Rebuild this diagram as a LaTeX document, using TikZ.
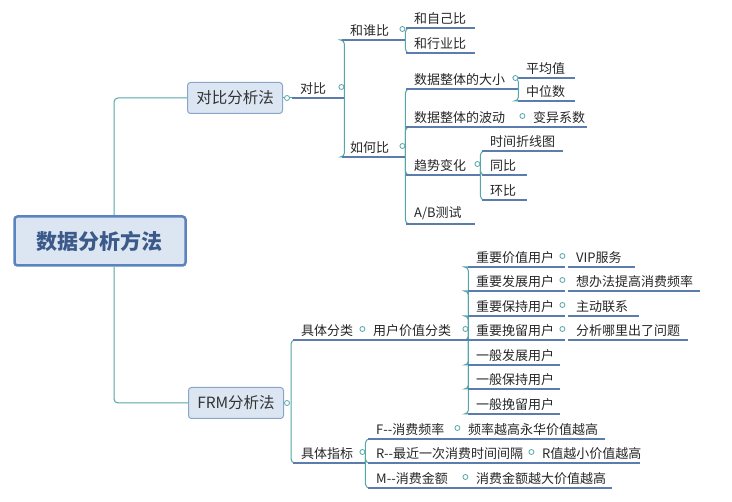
\documentclass[tikz,border=0pt]{standalone}
\usepackage{fontspec}
\setmainfont{Noto Sans CJK SC}
\usetikzlibrary{positioning, calc}
\definecolor{branch}{HTML}{55A6A8}
\definecolor{uline}{HTML}{5A7DAE}
\definecolor{boxfill}{HTML}{DCE6F2}
\definecolor{boxline}{HTML}{8AA5C8}
\definecolor{rootline}{HTML}{5B84BF}
\definecolor{roottext}{HTML}{3B5A8A}
\tikzset{
    x=1pt, y=-1pt,
    root/.style={draw=rootline, line width=2.5pt, fill=boxfill, rounded corners=3pt,
        minimum width=171pt, minimum height=49pt, text=roottext,
        font=\fontsize{21}{25}\selectfont\bfseries},
    method/.style={draw=boxline, line width=1pt, fill=boxfill, rounded corners=3pt,
        minimum width=95pt, minimum height=31pt, text=black!80,
        font=\fontsize{15.5}{18}\selectfont},
    topic/.style={anchor=south west, inner xsep=8pt, inner ysep=3.5pt, align=left,
        text width=#1-16pt, text=black!85, font=\fontsize{13}{16}\selectfont,
        execute at begin node=\hbox\bgroup, execute at end node=\egroup},
    br/.style={draw=branch, line width=1pt, rounded corners=4pt},
    ul/.style={draw=uline, line width=1.2pt},
    dot/.style={circle, draw=branch, fill=white, line width=.8pt, inner sep=0pt,
        minimum size=5pt},
}
\begin{document}
\begin{tikzpicture}
    \useasboundingbox (0, 0) rectangle (732, 502);
    % main boxes
    \node[root] (root) at (100, 241) {数据分析方法};
    \node[method] (dbfx) at (235, 98) {对比分析法};
    \node[method] (frm) at (236, 403) {FRM分析法};
    \draw[br] ([xshift=14pt]root.north) |- (dbfx.west);
    \draw[br] ([xshift=14pt]root.south) |- (frm.west);

    % contrast branch
    \node[topic=52pt] (db) at (292, 98) {对比};
    \node[topic=63pt] (hzb) at (342, 40) {和谁比};
    \node[topic=63pt] (hhb) at (342, 157) {如何比};
    \node[topic=69pt] (zj) at (406, 28) {和自己比};
    \node[topic=69pt] (hy) at (406, 53) {和行业比};
    \node[topic=112pt] (dx) at (406, 89) {数据整体的大小};
    \node[topic=119pt] (bd) at (406, 127) {数据整体的波动};
    \node[topic=62pt] (byxs) at (525, 127) {变异系数};
    \node[topic=74pt] (qs) at (406, 175) {趋势变化};
    \node[topic=69pt] (ab) at (406, 224) {A/B测试};
    \node[topic=57pt] (pjz) at (518, 78) {平均值};
    \node[topic=57pt] (zws) at (518, 101) {中位数};
    \node[topic=81pt] (zxt) at (482, 151) {时间折线图};
    \node[topic=45pt] (tb) at (482, 175) {同比};
    \node[topic=45pt] (hb) at (482, 200) {环比};
    \draw[br] (dbfx.east) -- (db.south west);
    \foreach \c in {hzb, hhb} \draw[br] (db.south east) |- (\c.south west);
    \foreach \c in {zj, hy} \draw[br] (hzb.south east) |- (\c.south west);
    \foreach \c in {dx, bd, qs, ab} \draw[br] (hhb.south east) |- (\c.south west);
    \foreach \c in {pjz, zws} \draw[br] (dx.south east) |- (\c.south west);
    \foreach \c in {zxt, tb, hb} \draw[br] (qs.south east) |- (\c.south west);

    % FRM branch
    \node[topic=72pt] (jtfl) at (293, 340) {具体分类};
    \node[topic=103pt] (yhfl) at (365, 340) {用户价值分类};
    \node[topic=72pt] (jtzb) at (293, 463) {具体指标};
    \node[topic=97pt] (u1) at (468, 267) {重要价值用户};
    \node[topic=97pt] (u2) at (468, 291) {重要发展用户};
    \node[topic=97pt] (u3) at (468, 316) {重要保持用户};
    \node[topic=97pt] (u4) at (468, 340) {重要挽留用户};
    \node[topic=92pt] (u5) at (468, 365) {一般发展用户};
    \node[topic=92pt] (u6) at (468, 389) {一般保持用户};
    \node[topic=92pt] (u7) at (468, 414) {一般挽留用户};
    \node[topic=67pt] (v1) at (568, 267) {VIP服务};
    \node[topic=132pt] (v2) at (568, 291) {想办法提高消费频率};
    \node[topic=71pt] (v3) at (568, 316) {主动联系};
    \node[topic=120pt] (v4) at (568, 340) {分析哪里出了问题};
    \node[topic=92pt] (f) at (368, 439) {F-{}-消费频率};
    \node[topic=166pt] (r) at (368, 463) {R-{}-最近一次消费时间间隔};
    \node[topic=100pt] (m) at (368, 488) {M-{}-消费金额};
    \node[topic=145pt] (fv) at (460, 439) {频率越高永华价值越高};
    \node[topic=106pt] (rv) at (534, 463) {R值越小价值越高};
    \node[topic=144pt] (mv) at (468, 488) {消费金额越大价值越高};
    \foreach \c in {jtfl, jtzb} \draw[br] ([xshift=7pt]frm.east) |- (\c.south west);
    \foreach \c in {u1, u2, u3, u4, u5, u6, u7}
        \draw[br] (yhfl.south east) |- (\c.south west);
    \foreach \c in {f, r, m} \draw[br] (jtzb.south east) |- (\c.south west);

    % underlines
    \foreach \n in {db, hzb, hhb, zj, hy, dx, bd, byxs, qs, ab, pjz, zws, zxt, tb, hb,
        jtfl, yhfl, jtzb, u1, u2, u3, u4, u5, u6, u7, v1, v2, v3, v4, f, r, m, fv, rv, mv}
        \draw[ul] (\n.south west) -- (\n.south east);

    % collapse dots
    \node[dot] at ([xshift=4pt]dbfx.east) {};
    \node[dot] at ([xshift=3pt]frm.east) {};
    \foreach \n in {db, hzb, hhb, dx, bd, qs, jtfl, yhfl, jtzb, u1, u2, u3, u4, f, r, m}
        \node[dot] at ([xshift=-3pt, yshift=11pt]\n.south east) {};
\end{tikzpicture}
\end{document}
